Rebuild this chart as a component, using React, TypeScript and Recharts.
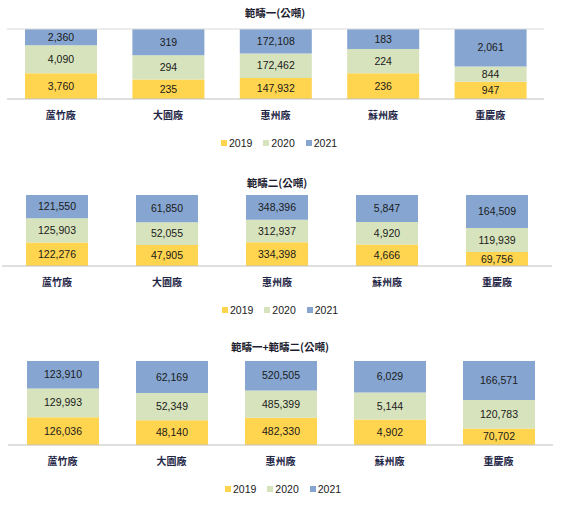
import { BarChart, Bar, XAxis, YAxis, LabelList, ReferenceLine } from "recharts";

const categories = ["蘆竹廠", "大園廠", "惠州廠", "蘇州廠", "重慶廠"];
const years = ["2019", "2020", "2021"];
const colors = ["#FFD44F", "#D7E3BC", "#86A6D1"];

const scope1_2019 = [3760, 235, 147932, 236, 947];
const scope1_2020 = [4090, 294, 172462, 224, 844];
const scope1_2021 = [2360, 319, 172108, 183, 2061];

const scope2_2019 = [122276, 47905, 334398, 4666, 69756];
const scope2_2020 = [125903, 52055, 312937, 4920, 119939];
const scope2_2021 = [121550, 61850, 348396, 5847, 164509];

const total_2019 = [126036, 48140, 482330, 4902, 70702];
const total_2020 = [129993, 52349, 485399, 5144, 120783];
const total_2021 = [123910, 62169, 520505, 6029, 166571];

const buildRows = (a: number[], b: number[], c: number[]) =>
  categories.map((name, i) => ({ name, y2019: a[i], y2020: b[i], y2021: c[i] }));

const fmt = (v: any) => Number(v).toLocaleString("en-US");

const CJK = "'Noto Sans CJK TC', 'Noto Sans CJK SC', sans-serif";
const NUM = "'Liberation Sans', Arial, sans-serif";

interface PanelProps {
  title: string;
  rows: ReturnType<typeof buildRows>;
  top: number;
  height: number;
  margin: { top: number; right: number; bottom: number; left: number };
  barSize: number;
  titleX: number;
  titleY: number;
  legendX: number;
  legendY: number;
  topLine?: boolean;
}

function Panel(p: PanelProps) {
  return (
    <>
      <div
        style={{
          position: "absolute",
          left: p.titleX - 100,
          width: 200,
          top: p.titleY - 8,
          height: 16,
          lineHeight: "16px",
          textAlign: "center",
          fontFamily: CJK,
          fontWeight: 700,
          fontSize: 10.5,
          color: "#1c1c30",
        }}
      >
        {p.title}
      </div>
      <div style={{ position: "absolute", left: 0, top: p.top }}>
        <BarChart
          width={561}
          height={p.height}
          data={p.rows}
          stackOffset="expand"
          margin={p.margin}
          barSize={p.barSize}
        >
          <YAxis hide domain={[0, 1]} />
          <XAxis
            dataKey="name"
            height={20}
            axisLine={{ stroke: "#BFBFBF", strokeWidth: 1.2 }}
            tickLine={false}
            tickSize={6}
            tickMargin={7}
            interval={0}
            tick={{ fill: "#1f2747", fontSize: 10, fontWeight: 700, fontFamily: CJK }}
          />
          {p.topLine && <ReferenceLine y={1} stroke="#D9D9D9" strokeWidth={1.2} />}
          {years.map((y, i) => (
            <Bar
              key={y}
              dataKey={"y" + y}
              stackId="s"
              fill={colors[i]}
              isAnimationActive={false}
            >
              <LabelList
                dataKey={"y" + y}
                position="center"
                formatter={fmt}
                fill="#1a1a1a"
                fontSize={10.5}
                fontFamily={NUM}
              />
            </Bar>
          ))}
        </BarChart>
      </div>
      <div
        style={{
          position: "absolute",
          left: p.legendX,
          top: p.legendY - 7,
          height: 14,
          display: "flex",
          alignItems: "center",
          fontFamily: NUM,
          fontSize: 10.5,
          color: "#1a1a1a",
          whiteSpace: "nowrap",
        }}
      >
        {years.map((y, i) => (
          <span key={y} style={{ display: "flex", alignItems: "center", marginRight: 11 }}>
            <span style={{ width: 6, height: 6, background: colors[i], marginRight: 2 }} />
            {y}
          </span>
        ))}
      </div>
    </>
  );
}

export default function App() {
  return (
    <div
      style={{
        position: "absolute",
        left: 0,
        top: 0,
        width: 561,
        height: 506,
        background: "#fff",
        overflow: "hidden",
      }}
    >
      <Panel
        title="範疇一(公噸)"
        rows={buildRows(scope1_2019, scope1_2020, scope1_2021)}
        top={20}
        height={115}
        margin={{ top: 9, right: 17, bottom: 16, left: 7 }}
        barSize={72}
        titleX={275}
        titleY={13}
        legendX={221}
        legendY={143}
        topLine
      />
      <Panel
        title="範疇二(公噸)"
        rows={buildRows(scope2_2019, scope2_2020, scope2_2021)}
        top={186}
        height={115}
        margin={{ top: 9, right: 9, bottom: 15, left: 2 }}
        barSize={62}
        titleX={277}
        titleY={183}
        legendX={222}
        legendY={310}
      />
      <Panel
        title="範疇一+範疇二(公噸)"
        rows={buildRows(total_2019, total_2020, total_2021)}
        top={352}
        height={120}
        margin={{ top: 9, right: 8, bottom: 7, left: 8 }}
        barSize={72}
        titleX={280}
        titleY={347}
        legendX={225}
        legendY={489}
      />
    </div>
  );
}
